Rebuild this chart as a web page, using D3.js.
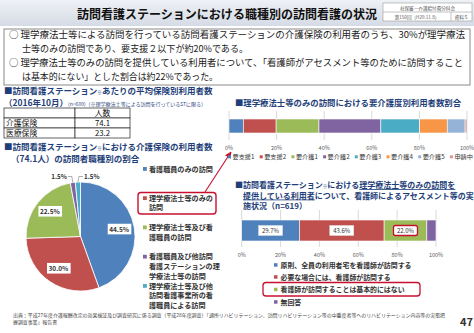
<!DOCTYPE html>
<html><head><meta charset="utf-8">
<script src="https://cdn.jsdelivr.net/npm/d3@7"></script>
<style>
html,body{margin:0;padding:0;background:#fff;}
svg{display:block;font-family:"Noto Sans CJK JP","Noto Sans",sans-serif;}
</style></head><body>
<svg id="chart" width="474" height="333"></svg>
<script>
// ---------------- data ----------------
const titleText = "訪問看護ステーションにおける職種別の訪問看護の状況";
const metaTop = "社保審－介護給付費分科会";
const metaBottom = ["第150回（H29.11.8）", "資料５"];
const summaryLines = [
  "○ 理学療法士等による訪問を行っている訪問看護ステーションの介護保険の利用者のうち、30%が理学療法",
  "士等のみの訪問であり、要支援２以下が約20%である。",
  "○ 理学療法士等のみの訪問を提供している利用者について、「看護師がアセスメント等のために訪問すること",
  "は基本的にない」とした割合は約22%であった。"
];
const tableHeader = "人数";
const tableRows = ["介護保険", "医療保険"];
const tableValues = [74.1, 23.2];
const pieCategories = [
  "看護職員のみの訪問",
  "理学療法士等のみの\n訪問",
  "理学療法士等及び看\n護職員の訪問",
  "看護職員及び他訪問\n看護ステーションの理\n学療法士等の訪問",
  "理学療法士等及び他\n訪問看護事業所の看\n護職員による訪問"
];
const pieValues = [44.5, 30.0, 22.5, 1.5, 1.5];
const careLevels = ["要支援1", "要支援2", "要介護1", "要介護2", "要介護3", "要介護4", "要介護5", "申請中"];
const careShares = [6.0, 13.8, 18.0, 26.0, 16.3, 11.6, 7.5, 0.8];
const assessCategories = [
  "原則、全員の利用者宅を看護師が訪問する",
  "必要な場合には、看護師が訪問する",
  "看護師が訪問することは基本的にはない",
  "無回答"
];
const assessShares = [29.7, 43.6, 22.0, 4.7];
const pctTicks = [0, 20, 40, 60, 80, 100];
const sourceLines = [
  "出典：平成27年度介護報酬改定の効果検証及び調査研究に係る調査（平成28年度調査）「通所リハビリテーション、訪問リハビリテーション等の中重度者等へのリハビリテーション内容等の実態把",
  "握調査事業」報告書"
];
const pageNumber = "47";

// ---------------- style ----------------
const palette = ["#4F81BD", "#C0504D", "#9BBB59", "#8064A2", "#4BACC6", "#F79646", "#95B3D7", "#D99694"];
const navy = "#1F3F7A";
const dark = "#333";
const red = "#C8102E";

const svg = d3.select("#chart");
const defs = svg.append("defs");
const tb = defs.append("linearGradient").attr("id", "tb").attr("x1", 0).attr("y1", 0).attr("x2", 0).attr("y2", 1);
tb.append("stop").attr("offset", "0%").attr("stop-color", "#eef1f5");
tb.append("stop").attr("offset", "100%").attr("stop-color", "#d5dbe5");
defs.append("marker").attr("id", "arrow").attr("viewBox", "0 0 10 10").attr("refX", 9).attr("refY", 5)
  .attr("markerWidth", 6).attr("markerHeight", 6).attr("orient", "auto")
  .append("path").attr("d", "M0,0L10,5L0,10z").attr("fill", red);

// ---------------- header ----------------
svg.append("rect").attr("x", 0).attr("y", 0).attr("width", 474).attr("height", 26).attr("fill", "url(#tb)");
svg.append("text").attr("x", 77).attr("y", 18.8).attr("font-size", 12.5).attr("font-weight", 700).attr("fill", "#111")
  .attr("textLength", 300).attr("lengthAdjust", "spacingAndGlyphs").text(titleText);

const meta = svg.append("g").attr("fill", "none").attr("stroke", "#9a9a9a").attr("stroke-width", 0.6);
meta.append("rect").attr("x", 383).attr("y", 3).attr("width", 89).attr("height", 18).attr("fill", "#fff");
meta.append("line").attr("x1", 383).attr("x2", 472).attr("y1", 12).attr("y2", 12);
meta.append("line").attr("x1", 451).attr("x2", 451).attr("y1", 12).attr("y2", 21);
svg.append("text").attr("x", 427.5).attr("y", 9.6).attr("text-anchor", "middle").attr("font-size", 4.6).attr("fill", "#555").text(metaTop);
svg.append("text").attr("x", 417).attr("y", 18.6).attr("text-anchor", "middle").attr("font-size", 4.6).attr("fill", "#555").text(metaBottom[0]);
svg.append("text").attr("x", 461.5).attr("y", 18.6).attr("text-anchor", "middle").attr("font-size", 4.6).attr("fill", "#555").text(metaBottom[1]);

// ---------------- summary box ----------------
svg.append("rect").attr("x", 4).attr("y", 29).attr("width", 466).attr("height", 56)
  .attr("fill", "#fff").attr("stroke", "#8a8a8a").attr("stroke-width", 1);
const sumX = [9, 22, 9, 22], sumW = [456, 226, 454, 196];
svg.selectAll("text.sum").data(summaryLines).join("text").attr("class", "sum")
  .attr("x", (d, i) => sumX[i]).attr("y", (d, i) => 37.5 + i * 14)
  .attr("font-size", 9.5).attr("fill", "#1a1a1a")
  .attr("textLength", (d, i) => sumW[i]).attr("lengthAdjust", "spacingAndGlyphs")
  .text(d => d);

// helper for section headings with small ※
function heading(x, y, before, after, size) {
  const t = svg.append("text").attr("x", x).attr("y", y).attr("font-size", size).attr("font-weight", 700).attr("fill", navy);
  t.append("tspan").text(before);
  if (after !== null) {
    t.append("tspan").attr("font-size", size * 0.55).text("※");
    t.append("tspan").text(after);
  }
  return t;
}

// ---------------- left: table ----------------
heading(4, 94, "■訪問看護ステーション", "あたりの平均保険別利用者数", 8.5);
const sub = svg.append("text").attr("x", 4).attr("y", 105.5).attr("fill", navy).attr("font-weight", 700);
sub.append("tspan").attr("font-size", 8.5).text("（2016年10月）");
sub.append("tspan").attr("font-size", 5).attr("font-weight", 400).text("(n=600)（※理学療法士等による訪問を行っているSTに限る）");

const tX = [4, 75, 130], tY0 = 108, rowH = 10;
const tableData = [["", tableHeader]].concat(tableRows.map((r, i) => [r, tableValues[i].toFixed(1)]));
const tbl = svg.append("g");
tableData.forEach((row, ri) => {
  row.forEach((cell, ci) => {
    tbl.append("rect").attr("x", tX[ci]).attr("y", tY0 + ri * rowH).attr("width", tX[ci + 1] - tX[ci]).attr("height", rowH)
      .attr("fill", "#fff").attr("stroke", "#222").attr("stroke-width", 0.7);
    tbl.append("text").attr("x", ci === 0 ? tX[0] + 2 : (tX[1] + tX[2]) / 2).attr("y", tY0 + ri * rowH + 7.6)
      .attr("text-anchor", ci === 0 ? "start" : "middle").attr("font-size", 7.8).attr("fill", "#111").text(cell);
  });
});

// ---------------- left: pie ----------------
heading(4, 149.5, "■訪問看護ステーション", "における介護保険の利用者数", 8.5);
svg.append("text").attr("x", 11).attr("y", 161.5).attr("font-size", 8.5).attr("font-weight", 700).attr("fill", navy).text("（74.1人）の訪問者職種別の割合");

const pieCx = 80.5, pieCy = 236.5, pieR = 54.5;
const pieArcs = d3.pie().sort(null).value(d => d)(pieValues);
const arc = d3.arc().innerRadius(0).outerRadius(pieR);
const labelArc = d3.arc().innerRadius(pieR * 0.72).outerRadius(pieR * 0.72);
const pieG = svg.append("g").attr("transform", `translate(${pieCx},${pieCy})`);
pieG.selectAll("path").data(pieArcs).join("path").attr("d", arc)
  .attr("fill", (d, i) => palette[i]).attr("stroke", "#fff").attr("stroke-width", 0.8);

pieArcs.forEach((d, i) => {
  const txt = d.data.toFixed(1) + "%";
  if (d.data >= 5) {
    const [lx, ly] = labelArc.centroid(d);
    const t = pieG.append("text").attr("x", lx).attr("y", ly + 2.3).attr("text-anchor", "middle")
      .attr("font-size", 6.5).attr("font-weight", 700).attr("fill", "#333").text(txt);
    const bb = t.node().getBBox();
    pieG.insert("rect", () => t.node()).attr("x", bb.x - 1.5).attr("y", bb.y - 0.3).attr("width", bb.width + 3).attr("height", bb.height + 0.6).attr("fill", "#fff");
  } else {
    const mid = (d.startAngle + d.endAngle) / 2;
    const px = pieR * Math.sin(mid), py = -pieR * Math.cos(mid);
    const ly = -pieR - 5.5;
    const left = i === 3;
    const ex = left ? px - 1 : px + 1;
    const tx = left ? px - 6 : px + 6;
    pieG.append("polyline").attr("points", `${px},${py} ${ex},${ly} ${left ? ex - 4 : ex + 4},${ly}`)
      .attr("fill", "none").attr("stroke", "#777").attr("stroke-width", 0.6);
    pieG.append("text").attr("x", tx).attr("y", ly + 2.2).attr("text-anchor", left ? "end" : "start")
      .attr("font-size", 6.3).attr("font-weight", 700).attr("fill", "#333").text(txt);
  }
});

// pie legend
const legX = 143, legTop = 169, legStep = 29.25, legLine = 9.6;
pieCategories.forEach((lab, i) => {
  const y0 = legTop + i * legStep;
  svg.append("rect").attr("x", legX).attr("y", y0 - 2).attr("width", 3.8).attr("height", 3.8).attr("fill", palette[i]);
  lab.split("\n").forEach((ln, j) => {
    svg.append("text").attr("x", legX + 6).attr("y", y0 + 2.6 + j * legLine)
      .attr("font-size", 7.1).attr("font-weight", 700).attr("fill", dark).text(ln);
  });
});
svg.append("rect").attr("x", 138).attr("y", 192.5).attr("width", 78).attr("height", 21.5).attr("rx", 3)
  .attr("fill", "none").attr("stroke", red).attr("stroke-width", 1.4);
svg.append("line").attr("x1", 205).attr("y1", 192).attr("x2", 231).attr("y2", 152)
  .attr("stroke", red).attr("stroke-width", 1.1).attr("marker-end", "url(#arrow)");

// ---------------- right top: stacked bar ----------------
heading(235, 106, "■理学療法士等のみの訪問における要介護度別利用者数割合", null, 8.4);
const xTop = d3.scaleLinear().domain([0, 100]).range([229, 467]);
const topG = svg.append("g");
topG.selectAll("line.grid").data(pctTicks).join("line").attr("class", "grid")
  .attr("x1", d => xTop(d)).attr("x2", d => xTop(d)).attr("y1", 111).attr("y2", 140)
  .attr("stroke", "#c8c8c8").attr("stroke-width", 0.7);
const careEnds = d3.cumsum(careShares);
topG.selectAll("rect.seg").data(careShares).join("rect").attr("class", "seg")
  .attr("x", (d, i) => xTop(careEnds[i] - d)).attr("width", (d, i) => xTop(careEnds[i]) - xTop(careEnds[i] - d))
  .attr("y", 119).attr("height", 14).attr("fill", (d, i) => palette[i]).attr("stroke", "#fff").attr("stroke-width", 0.6);
topG.selectAll("text.tick").data(pctTicks).join("text").attr("class", "tick")
  .attr("x", d => xTop(d)).attr("y", 149.5).attr("text-anchor", "middle").attr("font-size", 5.5).attr("fill", "#595959")
  .text(d => d + "%");
let lx = 228;
careLevels.forEach((lab, i) => {
  svg.append("rect").attr("x", lx).attr("y", 155.3).attr("width", 3).attr("height", 3).attr("fill", palette[i]);
  const t = svg.append("text").attr("x", lx + 4.5).attr("y", 159.3).attr("font-size", 6.2).attr("fill", dark).text(lab);
  lx += 4.5 + t.node().getComputedTextLength() + 5.2;
});

// ---------------- right bottom: assessment bar ----------------
const t1 = svg.append("text").attr("x", 235).attr("y", 188).attr("font-size", 8).attr("font-weight", 700).attr("fill", navy);
t1.append("tspan").text("■訪問看護ステーション");
t1.append("tspan").attr("font-size", 4.5).text("※");
t1.append("tspan").text("における");
t1.append("tspan").attr("text-decoration", "underline").text("理学療法士等のみの訪問を");
const t2 = svg.append("text").attr("x", 243).attr("y", 198.5).attr("font-size", 8).attr("font-weight", 700).attr("fill", navy);
t2.append("tspan").attr("text-decoration", "underline").text("提供している利用者");
t2.append("tspan").text("について、看護師によるアセスメント等の実");
svg.append("text").attr("x", 243).attr("y", 208.5).attr("font-size", 8).attr("font-weight", 700).attr("fill", navy).text("施状況（n=619）");

const xBot = d3.scaleLinear().domain([0, 100]).range([241.7, 436]);
const botG = svg.append("g");
botG.selectAll("line.grid").data(pctTicks).join("line").attr("class", "grid")
  .attr("x1", d => xBot(d)).attr("x2", d => xBot(d)).attr("y1", 210).attr("y2", 247)
  .attr("stroke", "#c8c8c8").attr("stroke-width", 0.7);
const assessEnds = d3.cumsum(assessShares);
botG.selectAll("rect.seg").data(assessShares).join("rect").attr("class", "seg")
  .attr("x", (d, i) => xBot(assessEnds[i] - d)).attr("width", (d, i) => xBot(assessEnds[i]) - xBot(assessEnds[i] - d))
  .attr("y", 220).attr("height", 21).attr("fill", (d, i) => palette[i]).attr("stroke", "#fff").attr("stroke-width", 0.6);
assessShares.forEach((d, i) => {
  if (d < 10) return;
  const cx = (xBot(assessEnds[i] - d) + xBot(assessEnds[i])) / 2;
  botG.append("rect").attr("x", cx - 12).attr("y", 225.5).attr("width", 24).attr("height", 10).attr("rx", i === 2 ? 2 : 0)
    .attr("fill", "#fff").attr("stroke", i === 2 ? red : "#e0e0e0").attr("stroke-width", i === 2 ? 1.3 : 0.5);
  botG.append("text").attr("x", cx).attr("y", 232.7).attr("text-anchor", "middle").attr("font-size", 6).attr("fill", "#333")
    .text(d.toFixed(1) + "%");
});
botG.selectAll("text.tick").data(pctTicks).join("text").attr("class", "tick")
  .attr("x", d => xBot(d)).attr("y", 257).attr("text-anchor", "middle").attr("font-size", 5.5).attr("fill", "#595959")
  .text(d => d + "%");
const aLegY = [265, 277, 289.5, 302];
assessCategories.forEach((lab, i) => {
  svg.append("rect").attr("x", 274).attr("y", aLegY[i] - 1.8).attr("width", 3.5).attr("height", 3.5).attr("fill", palette[i]);
  svg.append("text").attr("x", 280.5).attr("y", aLegY[i] + 2.5).attr("font-size", 6.9).attr("font-weight", 700).attr("fill", dark).text(lab);
});
svg.append("rect").attr("x", 263).attr("y", 282.5).attr("width", 157).attr("height", 13.5).attr("rx", 3)
  .attr("fill", "none").attr("stroke", red).attr("stroke-width", 1.3);

// ---------------- footer ----------------
svg.append("text").attr("x", 13).attr("y", 317).attr("font-size", 4.9).attr("fill", "#444")
  .attr("textLength", 432).attr("lengthAdjust", "spacingAndGlyphs").text(sourceLines[0]);
svg.append("text").attr("x", 13).attr("y", 323.5).attr("font-size", 4.9).attr("fill", "#444").text(sourceLines[1]);
svg.append("text").attr("x", 473).attr("y", 326).attr("text-anchor", "end").attr("font-size", 11).attr("font-weight", 700).attr("fill", "#333").text(pageNumber);
</script>
</body></html>
